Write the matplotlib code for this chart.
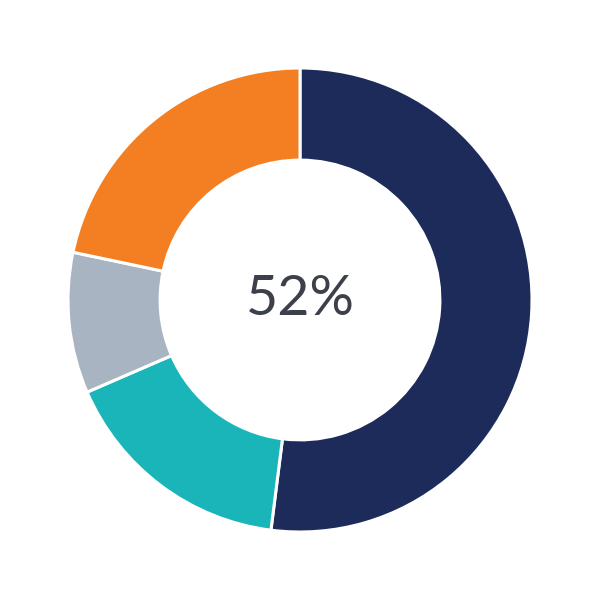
import matplotlib.pyplot as plt

# -- data --
labels = ["A", "B", "C", "D"]
values = [52.0, 16.5, 9.8, 21.7]
colors = ["#1c2b5a", "#1ab5b8", "#a9b4c2", "#f37f22"]
center_label = "52%"

fig = plt.figure(figsize=(6, 6), dpi=100)
ax = fig.add_axes([0, 0, 1, 1])

ax.pie(values, colors=colors, startangle=90, counterclock=False, radius=1.0,
       wedgeprops=dict(width=0.397, edgecolor="white", linewidth=2.2))

ax.text(0, -0.065, center_label, ha="center", va="baseline", fontsize=40,
        family=["Lato", "DejaVu Sans"], fontweight="normal", color="#3b404b")

lim = 300 / 232
ax.set_xlim(-lim, lim)
ax.set_ylim(-lim, lim)
ax.set_aspect("equal")
ax.axis("off")

plt.savefig("out.png", dpi=100, facecolor="white")
